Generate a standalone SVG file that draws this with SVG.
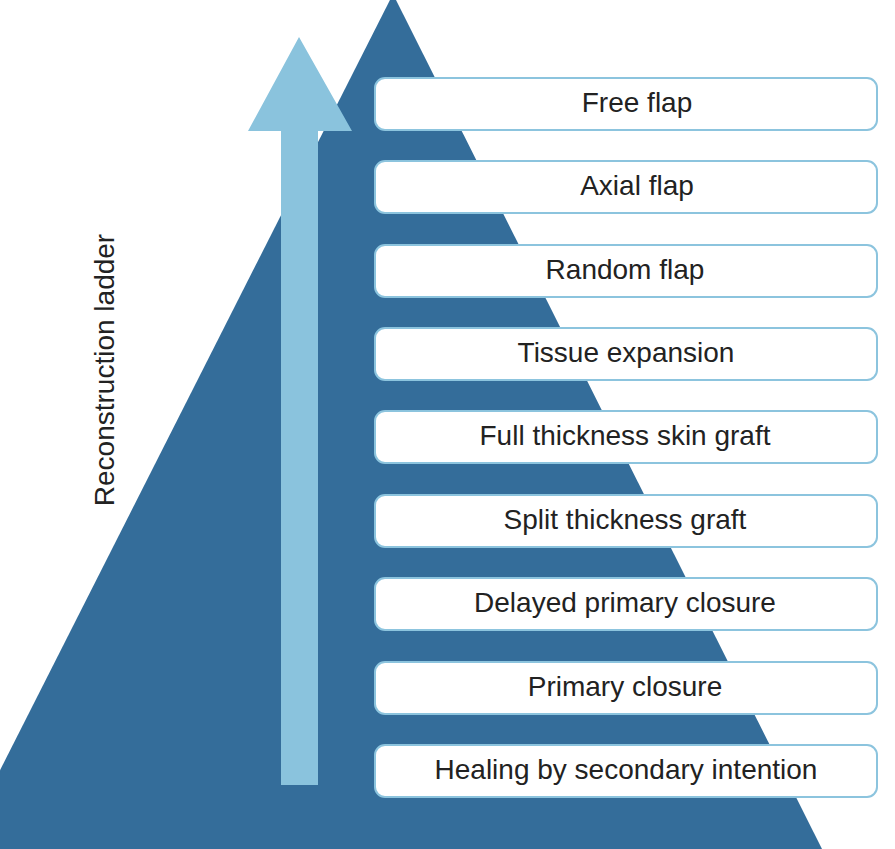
<svg xmlns="http://www.w3.org/2000/svg" width="895" height="849" viewBox="0 0 895 849">
<style>
.b{fill:#fff;stroke:#8cc4de;stroke-width:2}
.t{font-family:"Liberation Sans",Arial,sans-serif;font-size:28px;fill:#222;text-anchor:middle}
</style>
<rect width="895" height="849" fill="#fff"/>
<g id="pyramid"><polygon points="393,-6 822,849 -10,849 -10,790" fill="#346d9a"/></g>
<g id="arrow"><polygon points="281,785 318,785 318,131 352,131 299,37 248,131 281,131" fill="#8ac3dd"/></g>
<text class="t" transform="translate(114,370) rotate(-90)">Reconstruction ladder</text>
<g id="connectors"></g>
<g id="n1"><rect class="b" x="375" y="78" width="502" height="52" rx="10"/><text class="t" x="637" y="112">Free flap</text></g>
<g id="n2"><rect class="b" x="375" y="161" width="502" height="52" rx="10"/><text class="t" x="637" y="195">Axial flap</text></g>
<g id="n3"><rect class="b" x="375" y="245" width="502" height="52" rx="10"/><text class="t" x="625" y="279">Random flap</text></g>
<g id="n4"><rect class="b" x="375" y="328" width="502" height="52" rx="10"/><text class="t" x="626" y="362">Tissue expansion</text></g>
<g id="n5"><rect class="b" x="375" y="411" width="502" height="52" rx="10"/><text class="t" x="625" y="445">Full thickness skin graft</text></g>
<g id="n6"><rect class="b" x="375" y="495" width="502" height="52" rx="10"/><text class="t" x="625" y="529">Split thickness graft</text></g>
<g id="n7"><rect class="b" x="375" y="578" width="502" height="52" rx="10"/><text class="t" x="625" y="612">Delayed primary closure</text></g>
<g id="n8"><rect class="b" x="375" y="662" width="502" height="52" rx="10"/><text class="t" x="625" y="696">Primary closure</text></g>
<g id="n9"><rect class="b" x="375" y="745" width="502" height="52" rx="10"/><text class="t" x="626" y="779">Healing by secondary intention</text></g>
</svg>
